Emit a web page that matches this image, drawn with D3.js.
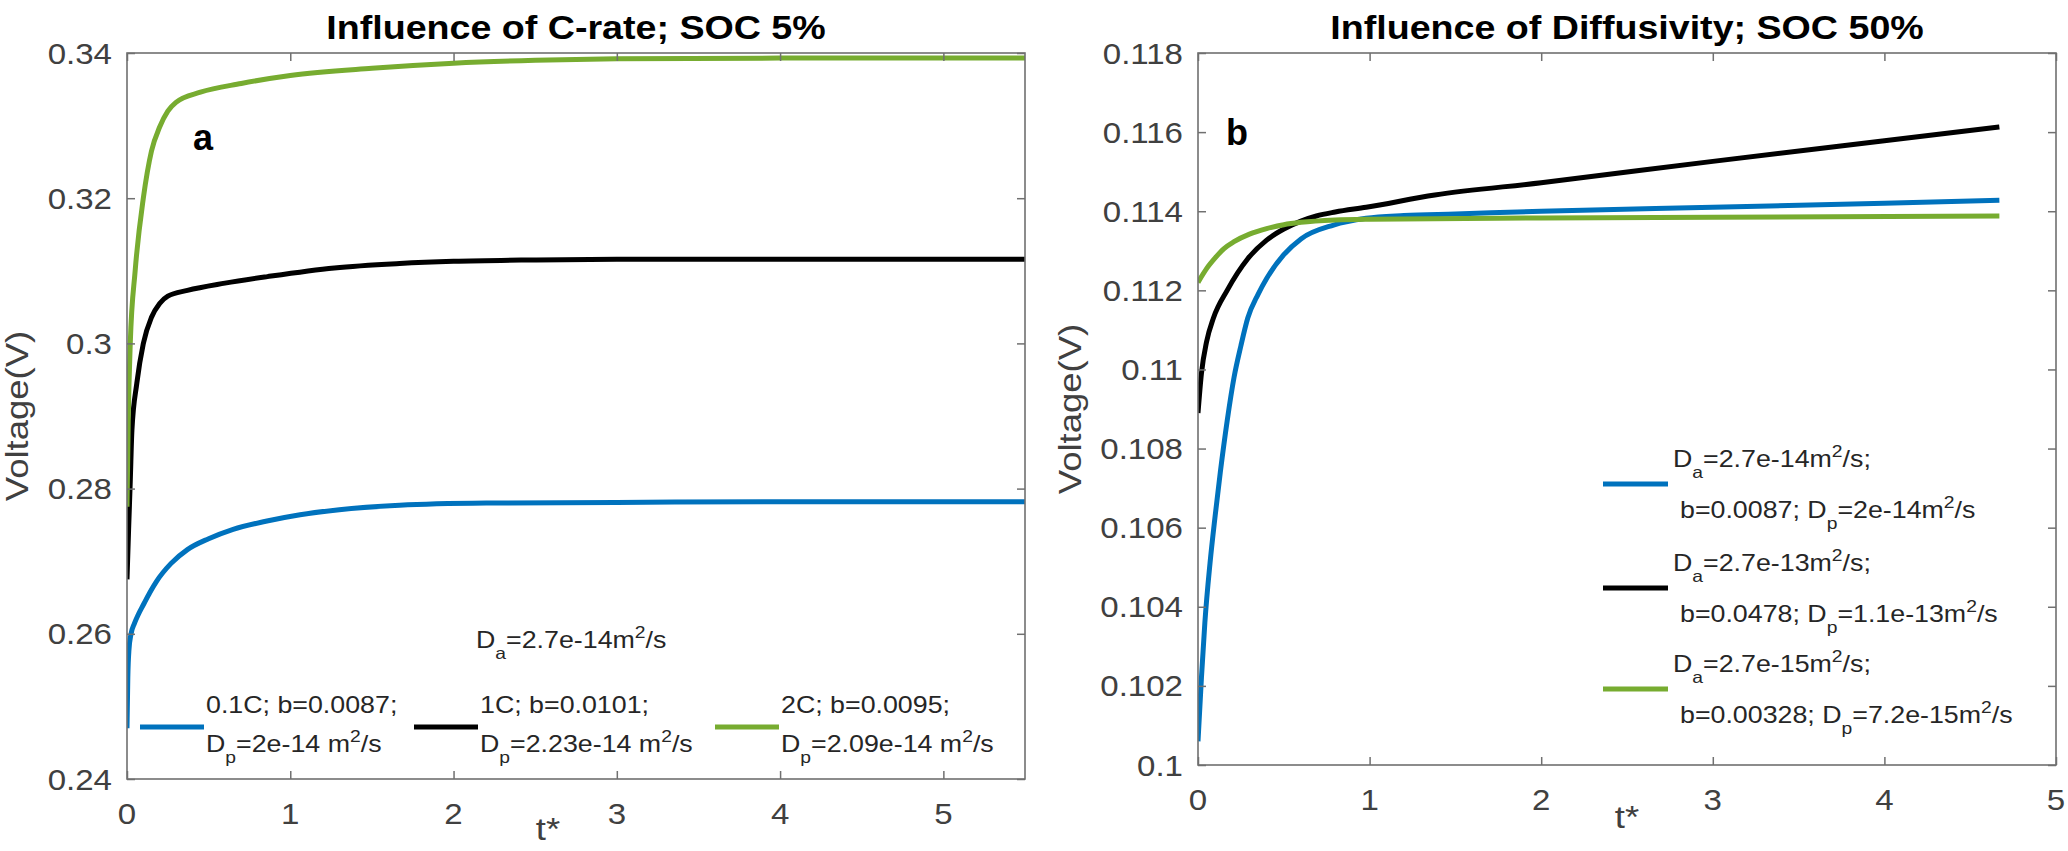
<!DOCTYPE html>
<html>
<head>
<meta charset="utf-8">
<script src="https://cdn.jsdelivr.net/npm/d3@7"></script>
<style>
  html, body { margin: 0; padding: 0; background: #fff; }
  svg { display: block; font-family: "Liberation Sans", Arial, Helvetica, sans-serif; }
</style>
</head>
<body>
<svg id="chart" width="2068" height="851"></svg>
<script>
// ---- data ----
// panel a: influence of C-rate, SOC 5%  [t*, voltage]
const rate01C = [[0,0.2470],[0.005,0.2540],[0.012,0.2578],[0.025,0.2600],[0.045,0.2614],[0.07,0.2627],[0.1,0.2640],[0.14,0.2657],[0.18,0.2672],[0.27,0.2697],[0.37,0.2716],[0.5,0.2731],[0.65,0.2744],[0.85,0.2755],[1.06,0.2764],[1.3,0.2771],[1.67,0.2777],[2.2,0.2780],[3,0.2781],[4,0.2782],[5.5,0.2782]];
const rate1C = [[0,0.2675],[0.01,0.2745],[0.02,0.2810],[0.03,0.2880],[0.06,0.2945],[0.1,0.3000],[0.15,0.3036],[0.2,0.3055],[0.25,0.3065],[0.37,0.3073],[0.6,0.3083],[0.86,0.3092],[1.27,0.3104],[1.67,0.3110],[2.0,0.3113],[2.5,0.3115],[3,0.3116],[5.5,0.3116]];
const rate2C = [[0,0.2775],[0.008,0.2900],[0.02,0.3000],[0.05,0.3100],[0.1,0.3200],[0.15,0.3265],[0.2,0.3298],[0.25,0.3320],[0.3,0.3332],[0.45,0.3346],[0.7,0.3358],[1.0,0.3369],[1.5,0.3379],[2.0,0.3386],[2.5,0.3390],[3.0,0.3392],[4.0,0.3393],[5.5,0.3393]];

// panel b: influence of diffusivity, SOC 50%
const diffA = [[0,0.1006],[0.02,0.1022],[0.04,0.1036],[0.07,0.1051],[0.1,0.1063],[0.13,0.1074],[0.17,0.1087],[0.21,0.1098],[0.25,0.1106],[0.29,0.1113],[0.35,0.1119],[0.4,0.1123],[0.5,0.1129],[0.6,0.1133],[0.79,0.11365],[0.98,0.11382],[1.2,0.11389],[1.5,0.11393],[2,0.11400],[3,0.11410],[4,0.11420],[4.67,0.11428]];
const diffB = [[0,0.1089],[0.02,0.1099],[0.05,0.1107],[0.09,0.1113],[0.17,0.1120],[0.29,0.1128],[0.4,0.11327],[0.5,0.11355],[0.6,0.11375],[0.69,0.11388],[0.8,0.11398],[0.98,0.1141],[1.38,0.11441],[2,0.11472],[3,0.11526],[4,0.11578],[4.67,0.11613]];
const diffC = [[0,0.1122],[0.05,0.11255],[0.1,0.11282],[0.15,0.11305],[0.21,0.11323],[0.3,0.11342],[0.4,0.11356],[0.5,0.11366],[0.6,0.11372],[0.8,0.11378],[1,0.1138],[2,0.11383],[3,0.11385],[4.67,0.11388]];

// ticks
const aXTicks = [0, 1, 2, 3, 4, 5];
const aYTicks = [0.24, 0.26, 0.28, 0.3, 0.32, 0.34];
const bXTicks = [0, 1, 2, 3, 4, 5];
const bYTicks = [0.1, 0.102, 0.104, 0.106, 0.108, 0.11, 0.112, 0.114, 0.116, 0.118];

// legend labels ( _x = subscript, ^x = superscript )
const aLegend = [
  ['0.1C; b=0.0087;', 'D_p=2e-14 m^2/s'],
  ['1C; b=0.0101;', 'D_p=2.23e-14 m^2/s'],
  ['2C; b=0.0095;', 'D_p=2.09e-14 m^2/s']
];
const bLegend = [
  ['D_a=2.7e-14m^2/s;', 'b=0.0087; D_p=2e-14m^2/s'],
  ['D_a=2.7e-13m^2/s;', 'b=0.0478; D_p=1.1e-13m^2/s'],
  ['D_a=2.7e-15m^2/s;', 'b=0.00328; D_p=7.2e-15m^2/s']
];
const colors = ['#0072BD', '#000000', '#77AC30'];

// ---- drawing ----
const SX = 1.14; // source font runs a bit wider than Liberation Sans
const svg = d3.select('#chart');
svg.append('rect').attr('width', 2068).attr('height', 851).attr('fill', '#fff');

// text with simple sub/superscripts
function richText(g, x, y, str, o = {}) {
  const size = o.size || 24;
  const sx = o.sx == null ? SX : o.sx;
  const t = g.append('text')
    .attr('transform', `translate(${x},${y})` + (o.rotate ? ` rotate(${o.rotate})` : '') + ` scale(${sx},1)`)
    .attr('font-size', size)
    .attr('font-weight', o.weight || 'normal')
    .attr('fill', o.color || '#262626')
    .attr('text-anchor', o.anchor || 'start');
  let shift = 0;
  str.split(/([_^].)/).filter(s => s).forEach(p => {
    let target = 0, txt = p, fs = null;
    if (p.length === 2 && p[0] === '_') { target = size * 0.45; txt = p[1]; fs = size * 0.72; }
    else if (p.length === 2 && p[0] === '^') { target = -size * 0.42; txt = p[1]; fs = size * 0.72; }
    const ts = t.append('tspan').attr('dy', target - shift).text(txt);
    if (fs) ts.attr('font-size', fs);
    shift = target;
  });
  return t;
}

function drawPanel(cfg) {
  const g = svg.append('g');
  const x = d3.scaleLinear().domain(cfg.xDomain).range([cfg.left, cfg.right]);
  const y = d3.scaleLinear().domain(cfg.yDomain).range([cfg.bottom, cfg.top]);

  const clipId = 'clip-' + cfg.id;
  g.append('clipPath').attr('id', clipId).append('rect')
    .attr('x', cfg.left).attr('y', cfg.top)
    .attr('width', cfg.right - cfg.left).attr('height', cfg.bottom - cfg.top);

  // lines
  const line = d3.line().x(d => x(d[0])).y(d => y(d[1])).curve(d3.curveMonotoneX);
  g.append('g').attr('clip-path', `url(#${clipId})`)
    .selectAll('path').data(cfg.series).join('path')
    .attr('d', d => line(d))
    .attr('fill', 'none')
    .attr('stroke', (d, i) => colors[i])
    .attr('stroke-width', 5)
    .attr('stroke-linejoin', 'round');

  // ticks on all four sides, pointing inward
  const axes = [
    [d3.axisBottom(x).tickValues(cfg.xTicks), `translate(0,${cfg.bottom})`],
    [d3.axisTop(x).tickValues(cfg.xTicks), `translate(0,${cfg.top})`],
    [d3.axisLeft(y).tickValues(cfg.yTicks), `translate(${cfg.left},0)`],
    [d3.axisRight(y).tickValues(cfg.yTicks), `translate(${cfg.right},0)`]
  ];
  axes.forEach(([ax, tr]) => {
    const a = g.append('g').attr('transform', tr)
      .call(ax.tickSize(-8).tickFormat(''));
    a.select('.domain').remove();
    a.selectAll('line').attr('stroke', '#707070').attr('stroke-width', 1.5);
  });
  g.append('rect')
    .attr('x', cfg.left).attr('y', cfg.top)
    .attr('width', cfg.right - cfg.left).attr('height', cfg.bottom - cfg.top)
    .attr('fill', 'none').attr('stroke', '#707070').attr('stroke-width', 1.6);

  // tick labels
  cfg.xTicks.forEach(v => richText(g, x(v), cfg.bottom + 45, String(v), { size: 29, anchor: 'middle', color: '#404040' }));
  cfg.yTicks.forEach(v => richText(g, cfg.left - 15, y(v) + 10.5, String(v), { size: 29, anchor: 'end', color: '#404040' }));

  // titles and labels
  richText(g, (cfg.left + cfg.right) / 2, 39, cfg.title, { size: 33, weight: 'bold', anchor: 'middle', color: '#000' });
  richText(g, cfg.yLabelX, (cfg.top + cfg.bottom) / 2, 'Voltage(V)', { size: 32, anchor: 'middle', rotate: -90, color: '#404040' });
  richText(g, cfg.tLabel[0], cfg.tLabel[1], 't*', { size: 32, anchor: 'middle', color: '#404040' });
  richText(g, cfg.letter[1], cfg.letter[2], cfg.letter[0], { size: 36, weight: 'bold', color: '#000', sx: 1 });

  return { g, x, y };
}

// panel a
const pa = drawPanel({
  id: 'a', left: 127, right: 1025, top: 53, bottom: 779,
  xDomain: [0, 5.5], yDomain: [0.24, 0.34],
  xTicks: aXTicks, yTicks: aYTicks,
  series: [rate01C, rate1C, rate2C],
  title: 'Influence of C-rate; SOC 5%',
  yLabelX: 28, tLabel: [548, 840], letter: ['a', 193, 150]
});
richText(pa.g, 476, 648, 'D_a=2.7e-14m^2/s', { size: 23.5 });
const aLegX = [140, 414, 715];
aLegend.forEach((lab, i) => {
  pa.g.append('line').attr('x1', aLegX[i]).attr('x2', aLegX[i] + 64)
    .attr('y1', 727).attr('y2', 727)
    .attr('stroke', colors[i]).attr('stroke-width', 5);
  richText(pa.g, aLegX[i] + 66, 713, lab[0], { size: 23.5 });
  richText(pa.g, aLegX[i] + 66, 752, lab[1], { size: 23.5 });
});

// panel b
const pb = drawPanel({
  id: 'b', left: 1198, right: 2056, top: 53, bottom: 765,
  xDomain: [0, 5], yDomain: [0.1, 0.118],
  xTicks: bXTicks, yTicks: bYTicks,
  series: [diffA, diffB, diffC],
  title: 'Influence of Diffusivity; SOC 50%',
  yLabelX: 1081, tLabel: [1627, 828], letter: ['b', 1226, 145]
});
const bLegY = [484, 588, 689];
bLegend.forEach((lab, i) => {
  pb.g.append('line').attr('x1', 1603).attr('x2', 1668)
    .attr('y1', bLegY[i]).attr('y2', bLegY[i])
    .attr('stroke', colors[i]).attr('stroke-width', 5);
  richText(pb.g, 1673, bLegY[i] - 17, lab[0], { size: 23.5 });
  richText(pb.g, 1680, bLegY[i] + 34, lab[1], { size: 23.5 });
});
</script>
</body>
</html>
